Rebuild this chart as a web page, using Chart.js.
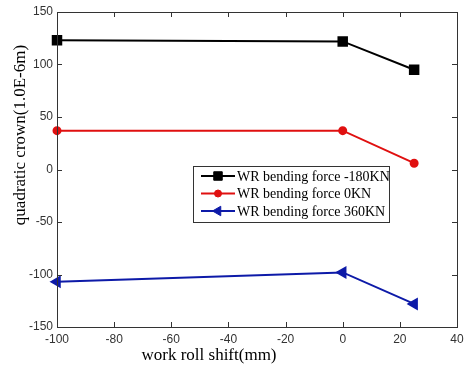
<!DOCTYPE html>
<html>
<head>
<meta charset="utf-8">
<script src="https://cdn.jsdelivr.net/npm/chart.js@4/dist/chart.umd.min.js"></script>
<style>
  html, body { margin: 0; padding: 0; background: #fff; }
  #wrap { width: 474px; height: 369px; }
</style>
</head>
<body>
<div id="wrap"><canvas id="c"></canvas></div>
<script>
// work roll shift positions (mm)
const shifts = [-100, 0, 25];
// quadratic crown (1.0E-6m) per WR bending force
const crownNeg180 = [123, 122, 95];
const crown0 = [37, 37, 6];
const crown360 = [-107, -98, -128];
const seriesLabels = ['WR bending force -180KN', 'WR bending force 0KN', 'WR bending force 360KN'];
const xTicks = [-100, -80, -60, -40, -20, 0, 20, 40];
const yTicks = [-150, -100, -50, 0, 50, 100, 150];

const frameColor = '#333';
const serif = '"Liberation Serif", "Times New Roman", serif';

function pts(ys) {
    return shifts.map((x, i) => ({ x: x, y: ys[i] }));
}

// MATLAB-like box with inward ticks on all four sides
const boxPlugin = {
    id: 'box',
    afterDraw(chart) {
        const { ctx, chartArea: a, scales } = chart;
        ctx.save();
        ctx.strokeStyle = frameColor;
        ctx.lineWidth = 1;
        ctx.strokeRect(a.left + 0.5, a.top + 0.5, a.right - a.left, a.bottom - a.top);
        ctx.beginPath();
        xTicks.forEach(v => {
            const px = Math.round(scales.x.getPixelForValue(v)) + 0.5;
            ctx.moveTo(px, a.bottom); ctx.lineTo(px, a.bottom - 5);
            ctx.moveTo(px, a.top); ctx.lineTo(px, a.top + 5);
        });
        yTicks.forEach(v => {
            const py = Math.round(scales.y.getPixelForValue(v)) + 0.5;
            ctx.moveTo(a.left, py); ctx.lineTo(a.left + 5, py);
            ctx.moveTo(a.right, py); ctx.lineTo(a.right - 5, py);
        });
        ctx.stroke();

        // axis titles
        ctx.fillStyle = '#000';
        ctx.font = '17px ' + serif;
        ctx.textAlign = 'center';
        ctx.textBaseline = 'middle';
        ctx.fillText('work roll shift(mm)', 209, 356);
        ctx.translate(21, 135);
        ctx.rotate(-Math.PI / 2);
        ctx.fillText('quadratic crown(1.0E-6m)', 0, 0);
        ctx.restore();
    }
};

// legend box inside the plot
const legendPlugin = {
    id: 'innerLegend',
    afterDraw(chart) {
        const ctx = chart.ctx;
        const bx = 193, by = 166, bw = 196, bh = 56;
        ctx.save();
        ctx.fillStyle = '#fff';
        ctx.fillRect(bx, by, bw, bh);
        ctx.strokeStyle = frameColor;
        ctx.lineWidth = 1;
        ctx.strokeRect(bx + 0.5, by + 0.5, bw, bh);
        chart.data.datasets.forEach((ds, i) => {
            const y = by + 10 + i * 17.5;
            ctx.strokeStyle = ds.borderColor;
            ctx.fillStyle = ds.borderColor;
            ctx.lineWidth = 2;
            ctx.beginPath();
            ctx.moveTo(201, y); ctx.lineTo(235, y);
            ctx.stroke();
            ctx.lineWidth = 1;
            Chart.helpers.drawPoint(ctx, {
                pointStyle: ds.pointStyle,
                rotation: ds.pointRotation || 0,
                radius: ds.pointRadius,
                borderWidth: 1
            }, 218, y);
            ctx.fillStyle = '#000';
            ctx.font = '14px ' + serif;
            ctx.textAlign = 'left';
            ctx.textBaseline = 'middle';
            ctx.fillText(ds.label, 237, y + 1);
        });
        ctx.restore();
    }
};

function series(label, ys, color, style, radius, rotation) {
    return {
        label: label,
        data: pts(ys),
        borderColor: color,
        backgroundColor: color,
        pointBackgroundColor: color,
        pointBorderColor: color,
        pointStyle: style,
        pointRadius: radius,
        pointRotation: rotation,
        borderWidth: 2,
        tension: 0,
        clip: false
    };
}

new Chart(document.getElementById('c'), {
    type: 'line',
    data: {
        datasets: [
            series(seriesLabels[0], crownNeg180, '#000000', 'rect', 6, 0),
            series(seriesLabels[1], crown0, '#e01010', 'circle', 3.5, 0),
            series(seriesLabels[2], crown360, '#0d1aa8', 'triangle', 5.5, -90)
        ]
    },
    options: {
        responsive: true,
        maintainAspectRatio: false,
        animation: false,
        layout: { padding: { left: 0, top: 12, right: 17, bottom: 0 } },
        plugins: {
            legend: { display: false },
            tooltip: { enabled: false }
        },
        scales: {
            x: {
                type: 'linear',
                min: -100,
                max: 40,
                afterFit: s => { s.height = 42; },
                afterBuildTicks: s => { s.ticks = xTicks.map(v => ({ value: v })); },
                grid: { display: false, drawTicks: false },
                border: { display: false },
                ticks: {
                    padding: 5,
                    color: '#333',
                    maxRotation: 0,
                    font: { family: '"Liberation Sans", Arial, sans-serif', size: 12 }
                }
            },
            y: {
                type: 'linear',
                min: -150,
                max: 150,
                afterFit: s => { s.width = 57; },
                afterBuildTicks: s => { s.ticks = yTicks.map(v => ({ value: v })); },
                grid: { display: false, drawTicks: false },
                border: { display: false },
                ticks: {
                    padding: 4,
                    color: '#333',
                    font: { family: '"Liberation Sans", Arial, sans-serif', size: 12 }
                }
            }
        }
    },
    plugins: [boxPlugin, legendPlugin]
});
</script>
</body>
</html>
